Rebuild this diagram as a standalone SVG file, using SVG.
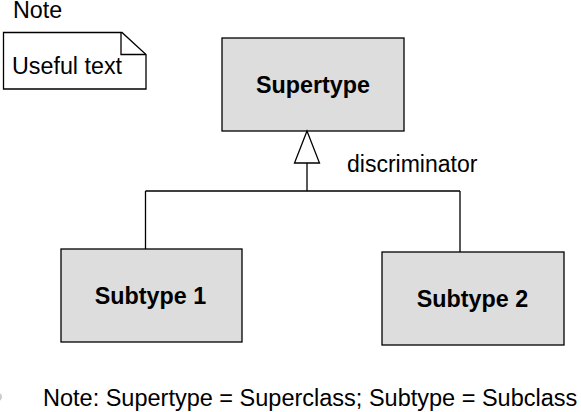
<svg xmlns="http://www.w3.org/2000/svg" width="581" height="412" viewBox="0 0 581 412">
<style>
.box{fill:#dddddd;stroke:#000;stroke-width:1.3}
.ln{fill:none;stroke:#000;stroke-width:1.3}
.t{font-family:"Liberation Sans",Arial,sans-serif;font-size:23.3px;fill:#000}
.b{font-weight:bold;text-anchor:middle}
</style>
<rect width="581" height="412" fill="#fff"/>
<g id="note">
<path class="ln" d="M3.5,32.5 H122 L146,54.5 V89 H3.5 Z" fill="#fff"/>
<path class="ln" d="M121,32.5 V54.5 H146"/>
<text class="t" x="13" y="18">Note</text>
<text class="t" x="12" y="74">Useful text</text>
</g>
<g id="supertype">
<rect class="box" x="222" y="38" width="182" height="93"/>
<text class="t b" x="313" y="93">Supertype</text>
</g>
<g id="subtype1">
<rect class="box" x="61" y="249" width="181" height="93"/>
<text class="t b" x="150.5" y="304">Subtype 1</text>
</g>
<g id="subtype2">
<rect class="box" x="382" y="252" width="182" height="93"/>
<text class="t b" x="472.5" y="307">Subtype 2</text>
</g>
<g id="connectors">
<polygon class="ln" points="307,131 294.5,163 319.5,163" fill="#fff"/>
<path class="ln" d="M307,163 V191 M145.5,191 H460 M145.5,191 V249 M460,191 V252"/>
<text class="t" x="347" y="171.7" style="font-size:23px">discriminator</text>
</g>
<circle cx="-2" cy="397" r="4" fill="#cccccc"/>
<text class="t" x="43" y="405.7" style="font-size:23.5px">Note: Supertype = Superclass; Subtype = Subclass</text>
</svg>
